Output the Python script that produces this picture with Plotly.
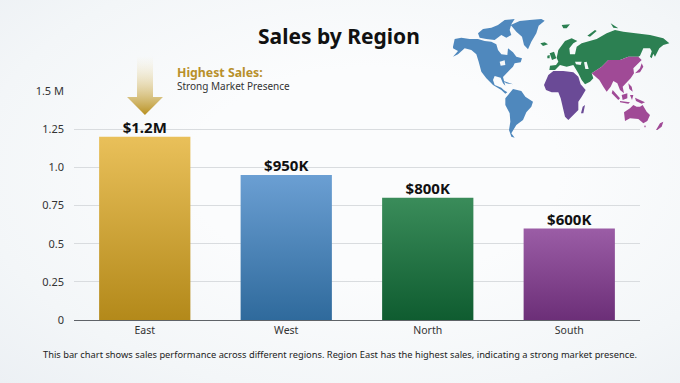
import json
import plotly.graph_objects as go

W, H = 680, 383
FONT = "Noto Sans"

regions = ["East", "West", "North", "South"]
sales_m = [1.2, 0.95, 0.8, 0.6]
sale_labels = ["$1.2M", "$950K", "$800K", "$600K"]
tick_values = [0, 0.25, 0.5, 0.75, 1.0, 1.25, 1.5]
tick_labels = ["0", "0.25", "0.5", "0.75", "1.0", "1.25", "1.5 M"]
bar_tops = ["#e9c05a", "#6b9fd3", "#3a8c5a", "#9b5da6"]
bar_bottoms = ["#b3891a", "#2f6a9c", "#0f5c30", "#6c2f78"]

# Rough continent outlines, in the map's own grid (0-696 by 0-390)
E = 276  # east half was read with its own origin


def east(points):
    return [(x + E, y) for x, y in points]


north_america = [
    [(15,95),(20,72),(40,68),(65,72),(90,72),(110,78),(130,80),(145,88),(150,105),(160,118),(178,120),(180,100),(195,112),(205,125),(222,130),(218,142),(200,145),(195,155),(185,165),(172,178),(165,186),(172,212),(165,205),(158,188),(140,183),(135,195),(140,210),(160,218),(168,226),(178,232),(172,236),(160,225),(135,210),(115,190),(100,170),(92,140),(85,118),(70,105),(50,100),(30,118),(15,125),(30,108),(15,100)],
    [(90,55),(105,42),(130,38),(150,30),(170,15),(200,12),(190,28),(185,45),(190,60),(175,68),(160,60),(140,75),(115,72),(95,68)],
    [(188,30),(215,18),(245,15),(280,12),(290,17),(272,32),(265,55),(250,80),(240,103),(228,90),(222,65),(205,50)],
    [(165,197),(185,203),(195,208),(175,205)],
    [(172,250),(195,222),(220,228),(232,245),(255,260),(250,275),(235,292),(225,315),(205,330),(195,345),(190,355),(200,368),(190,365),(183,345),(187,320),(185,295),(172,270)],
]
eurasia = [
    east([(28,165),(30,152),(48,150),(55,140),(50,128),(55,105),(75,78),(95,70),(112,78),(100,85),(88,100),(90,118),(105,118),(110,95),(125,85),(150,78),(170,72),(200,55),(225,45),(250,50),(290,55),(330,60),(370,70),(388,85),(370,90),(358,100),(345,125),(330,100),(310,100),(300,122),(295,125),(265,125),(240,135),(205,135),(185,155),(155,175),(160,190),(150,200),(135,208),(125,195),(115,175),(108,165),(100,150),(80,155),(60,150),(45,165)]),
    [(277,85),(290,82),(300,88),(285,93)],
    [(305,115),(318,110),(325,130),(312,135)],
    [(298,122),(305,120),(305,130),(298,130)],
    east([(65,30),(90,28),(80,40),(70,40)]),
    east([(142,62),(165,45),(170,48),(150,65)]),
    east([(212,25),(235,40),(220,38)]),
    east([(330,125),(338,100),(342,110),(335,130)]),
]
asia = [
    east([(155,175),(185,155),(205,135),(240,135),(265,125),(295,125),(305,135),(290,150),(280,160),(282,175),(272,190),(262,200),(248,215),(252,235),(240,225),(232,205),(220,198),(212,215),(200,230),(190,215),(178,195)]),
    east([(285,175),(300,160),(305,145),(310,155),(300,172)]),
    east([(218,225),(240,250),(235,255),(215,235)]),
    east([(245,240),(262,235),(262,250),(248,255)]),
    east([(240,258),(270,262),(265,266),(240,262)]),
    east([(270,240),(280,240),(276,255)]),
    east([(265,205),(275,215),(278,230),(268,222)]),
    east([(285,248),(315,262),(305,266),(288,258)]),
    east([(252,292),(270,280),(280,270),(290,275),(300,275),(308,270),(320,290),(330,300),(322,318),(310,325),(295,312),(270,310),(255,318)]),
    east([(312,332),(318,332),(315,338)]),
    east([(348,345),(360,325),(370,320),(365,335),(352,345)]),
]
africa = [
    east([(12,210),(25,180),(40,168),(70,168),(100,172),(115,185),(122,208),(137,225),(125,245),(115,260),(115,285),(100,300),(85,315),(75,305),(70,280),(62,250),(55,232),(35,232),(18,225)]),
    east([(128,275),(135,270),(130,295),(123,295)]),
]
lakes = [
    [(155,140),(170,136),(172,150),(158,152)],
    east([(105,140),(125,140),(122,150),(108,148)]),
    east([(132,142),(140,140),(146,162),(136,162)]),
]
map_parts = [
    (north_america, "#4f88bd"),
    (eurasia, "#2c8052"),
    (asia, "#a04a96"),
    (africa, "#6a4a96"),
    (lakes, "#f4f7f9"),
]

fig = go.Figure()
fig.add_trace(go.Bar(
    x=regions, y=sales_m, marker=dict(color=bar_bottoms, line=dict(width=0)),
    width=0.645, hoverinfo="skip", showlegend=False,
))
fig.add_trace(go.Scatter(
    x=regions, y=sales_m, mode="text", text=sale_labels, textposition="top center",
    textfont=dict(family=FONT, size=15, color="#111111", weight="bold"),
    hoverinfo="skip", showlegend=False,
))
for polys, colour in map_parts:
    xs, ys = [], []
    for poly in polys:
        xs += [p[0] for p in poly] + [poly[0][0], None]
        ys += [p[1] for p in poly] + [poly[0][1], None]
    fig.add_trace(go.Scatter(
        x=xs, y=ys, xaxis="x2", yaxis="y2", mode="lines", fill="toself",
        fillcolor=colour, line=dict(width=0, color=colour),
        hoverinfo="skip", showlegend=False,
    ))


def px(x):
    return x / W


def py(y):
    return 1 - y / H


arrow = [(137, 56), (153, 56), (153, 97), (163, 97), (145, 115), (127, 97), (137, 97)]
arrow_path = "M " + " L ".join(f"{px(x):.4f},{py(y):.4f}" for x, y in arrow) + " Z"

fig.update_layout(
    width=W, height=H, margin=dict(l=0, r=0, t=0, b=0),
    paper_bgcolor="rgba(0,0,0,0)", plot_bgcolor="rgba(0,0,0,0)",
    font=dict(family=FONT, color="#333333"),
    bargap=0.355, showlegend=False,
    xaxis=dict(
        domain=[px(74), px(640)], showgrid=False, ticks="", fixedrange=True, automargin=False,
        showline=True, linecolor="#5f6368", linewidth=1, tickfont=dict(size=10.5, color="#333333"),
        anchor="y", zeroline=False,
    ),
    yaxis=dict(
        domain=[py(320), py(91)], range=[0, 1.5], tickvals=tick_values, ticktext=tick_labels,
        showgrid=True, gridcolor="#d9dcdf", gridwidth=1, zeroline=False, ticks="", automargin=False,
        tickfont=dict(size=11, color="#333333"), ticklabelstandoff=9, fixedrange=True, anchor="x",
    ),
    xaxis2=dict(domain=[px(448), 1], range=[0, 696], visible=False, anchor="y2", fixedrange=True, automargin=False),
    yaxis2=dict(domain=[py(145), py(15)], range=[390, 0], visible=False, anchor="x2", fixedrange=True, automargin=False),
    shapes=[dict(type="path", xref="paper", yref="paper", path=arrow_path,
                 fillcolor="#b8901f", line=dict(width=0), layer="above")],
    annotations=[
        dict(text="<b>Sales by Region</b>", x=px(339), y=py(36), xref="paper", yref="paper",
             showarrow=False, xanchor="center", yanchor="middle",
             font=dict(size=21, color="#111111", family=FONT)),
        dict(text="<span style='font-size:12.3px;color:#b8902b'><b>Highest Sales:</b></span><br>Strong Market Presence",
             x=px(175), y=py(78), xref="paper", yref="paper", align="left",
             showarrow=False, xanchor="left", yanchor="middle",
             font=dict(size=10, color="#333333", family=FONT)),
        dict(text="This bar chart shows sales performance across different regions. Region East has the highest sales, indicating a strong market presence.",
             x=px(340), y=py(354), xref="paper", yref="paper", showarrow=False,
             xanchor="center", yanchor="middle", font=dict(size=9.3, color="#222222", family=FONT)),
    ],
)

stops = [[t, b] for t, b in zip(bar_tops, bar_bottoms)]
post = """
document.documentElement.style.margin = '0';
document.body.style.margin = '0';
document.body.style.overflow = 'hidden';
document.body.style.background = 'radial-gradient(ellipse at 55% 45%, #fbfcfd 35%, #f3f6f8 75%, #ecf0f4 100%)';
var gd = document.querySelector('.plotly-graph-div');
var svg = gd.querySelector('svg.main-svg');
var NS = 'http://www.w3.org/2000/svg';
var defs = svg.querySelector('defs') || svg.appendChild(document.createElementNS(NS, 'defs'));
function grad(id, a, b, a0) {
  var g = document.createElementNS(NS, 'linearGradient');
  g.setAttribute('id', id);
  g.setAttribute('x1', '0'); g.setAttribute('y1', '0');
  g.setAttribute('x2', '0'); g.setAttribute('y2', '1');
  var s1 = document.createElementNS(NS, 'stop');
  s1.setAttribute('offset', '0'); s1.setAttribute('stop-color', a); s1.setAttribute('stop-opacity', a0);
  var s2 = document.createElementNS(NS, 'stop');
  s2.setAttribute('offset', '1'); s2.setAttribute('stop-color', b);
  g.appendChild(s1); g.appendChild(s2); defs.appendChild(g);
}
var stops = __STOPS__;
gd.querySelectorAll('.barlayer .point path').forEach(function (p, i) {
  grad('barg' + i, stops[i][0], stops[i][1], 1);
  p.style.fill = 'url(#barg' + i + ')';
});
grad('arrowg', '#f2e3b4', '#b8901f', 0);
gd.querySelectorAll('.shapelayer path').forEach(function (p) {
  p.style.fill = 'url(#arrowg)';
  p.style.fillOpacity = 1;
});
""".replace("__STOPS__", json.dumps(stops))

fig.write_html("out.html", post_script=post, config={"displayModeBar": False})
